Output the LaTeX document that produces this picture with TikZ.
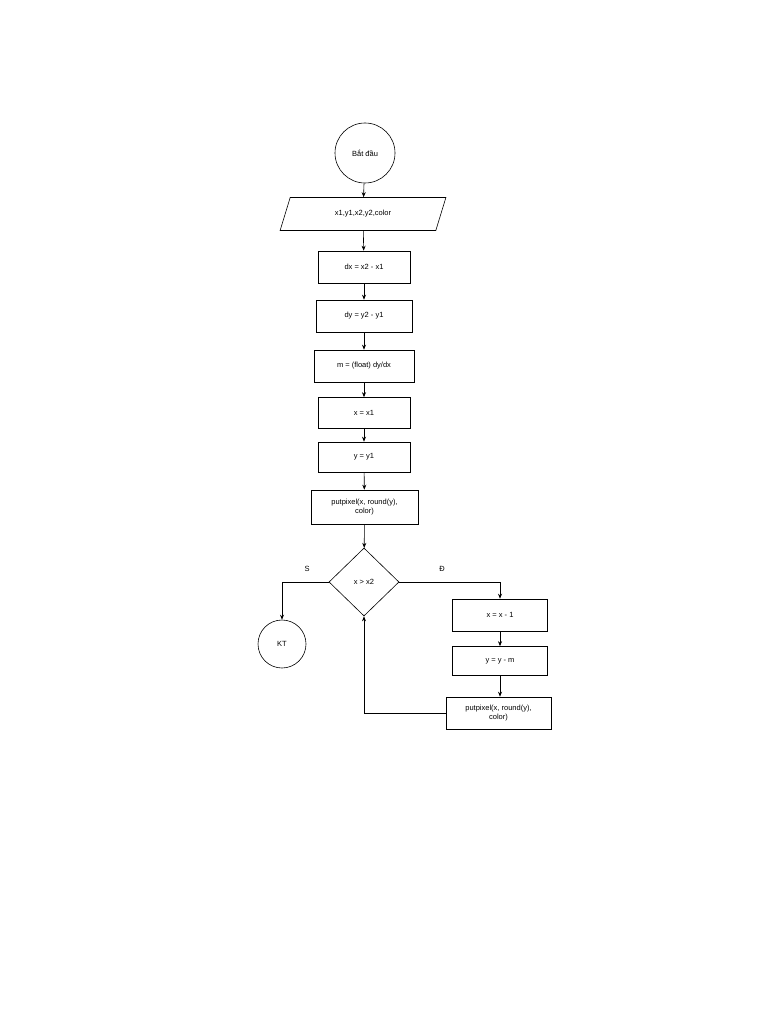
\documentclass[tikz,border=0pt]{standalone}
\usepackage{fontspec}
\setmainfont{Liberation Sans}
\usetikzlibrary{shapes.geometric,arrows.meta}
\begin{document}
\begin{tikzpicture}[x=1pt,y=-1pt,font=\fontsize{7.5}{8.5}\selectfont,
  box/.style={draw,minimum height=#1},
  conn/.style={-{Stealth[length=5pt,width=4pt]}},
  every node/.style={line width=0.6pt}, line width=0.6pt]
\useasboundingbox (0,0) rectangle (768,1024);
\node[circle,draw,minimum size=60] (start) at (365,153) {Bắt đầu};
\node[trapezium,trapezium left angle=73,trapezium right angle=107,draw,minimum width=80,minimum height=33,inner xsep=2pt] (in) at (363,214) {x1,y1,x2,y2,color};
\node[draw,minimum width=92,minimum height=32] (dx) at (364,267) {dx = x2 - x1};
\node[draw,minimum width=96,minimum height=32] (dy) at (364,316) {dy = y2 - y1};
\node[draw,minimum width=100,minimum height=32] (m) at (364,366) {m = (float) dy/dx};
\node[draw,minimum width=92,minimum height=31] (x1) at (364,413) {x = x1};
\node[draw,minimum width=92,minimum height=30] (y1) at (364,457) {y = y1};
\node[draw,minimum width=107,minimum height=34,align=center] (p1) at (364.5,507) {putpixel(x, round(y),\\color)};
\node[diamond,draw,minimum width=70,minimum height=68,inner sep=0] (d) at (364,582) {x {\textgreater} x2};
\node[circle,draw,minimum size=48] (kt) at (282,644) {KT};
\node[draw,minimum width=95,minimum height=32] (xm) at (500,615) {x = x - 1};
\node[draw,minimum width=95,minimum height=29] (ym) at (500,661) {y = y - m};
\node[draw,minimum width=105,minimum height=32,align=center] (p2) at (498.5,713) {putpixel(x, round(y),\\color)};
\node (S) at (307,569) {S};
\node (D) at (442,569) {Đ};
\draw[conn] (start) -- (in);
\draw[conn] (in) -- (dx);
\draw[conn] (dx) -- (dy);
\draw[conn] (dy) -- (m);
\draw[conn] (m) -- (x1);
\draw[conn] (x1) -- (y1);
\draw[conn] (y1) -- (p1);
\draw[conn] (p1) -- (d);
\draw[conn] (d.west) -| (kt.north);
\draw[conn] (d.east) -| (xm.north);
\draw[conn] (xm) -- (ym);
\draw[conn] (ym.south) -- (ym.south|-p2.north);
\draw[conn] (p2.west) -| (d.south);
\end{tikzpicture}
\end{document}
